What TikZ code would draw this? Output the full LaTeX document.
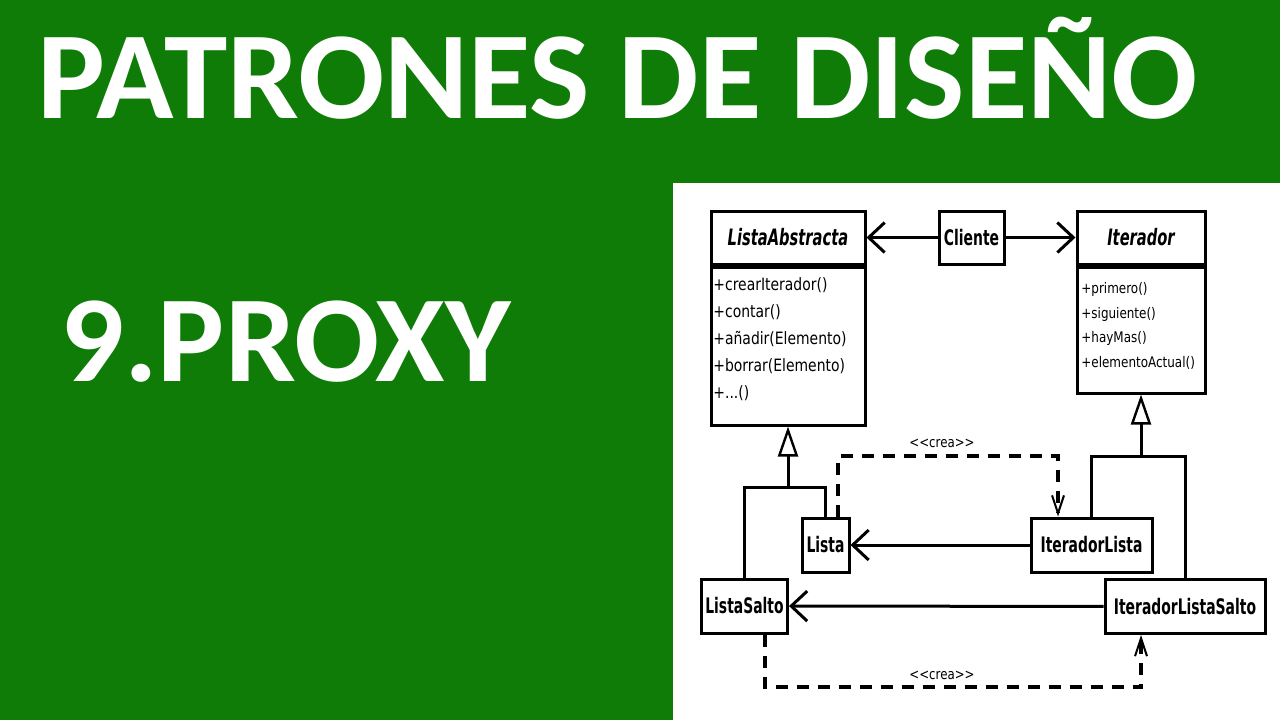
\documentclass[tikz,border=0pt]{standalone}
\usepackage{fontspec}
\setmainfont{Carlito}
\newfontfamily\titlefont[FakeStretch=1.025]{Carlito}
\newfontfamily\umlfont[FakeStretch=0.82]{DejaVu Sans}
\newfontfamily\umlbf[FakeStretch=0.65]{DejaVu Sans}
\usetikzlibrary{arrows.meta,positioning}
\definecolor{titlegreen}{RGB}{16,124,8}
\newcommand{\crea}{<\kern0pt<crea>\kern0pt>}

\begin{document}
\begin{tikzpicture}[x=0.5pt,y=-0.5pt,
    umlbox/.style={draw, line width=1.5pt, fill=white, inner sep=0pt, font=\umlbf\bfseries\fontsize{10.7}{12}\selectfont},
    umlhead/.style={umlbox, font=\umlbf\bfseries\itshape\fontsize{11.3}{13}\selectfont},
    umlbody/.style={draw, line width=1.5pt, inner sep=0pt},
    meth/.style={anchor=base west, inner sep=0pt, font=\umlfont\fontsize{8.5}{10}\selectfont},
    assoc/.style={line width=1.5pt, -{Straight Barb[length=8pt,width=15pt]}},
    gen/.style={line width=1.5pt, -{Triangle[open,length=15pt,width=10pt,line width=1.2pt]}},
    crea/.style={line width=2pt, dash pattern=on 6pt off 4.5pt, -{Straight Barb[length=9pt,width=6pt,line width=1pt]}},
    crealabel/.style={font=\umlfont\fontsize{7.2}{8}\selectfont, inner sep=0pt}]
                % Background and panel
                \useasboundingbox (0,0) rectangle (1280,720);
                \fill[titlegreen] (0,0) rectangle (1280,720);
                \fill[white] (673,183) rectangle (1280,720);
                
                % Title texts
                \node[anchor=base west, inner sep=0pt, text=white, font=\titlefont\bfseries\fontsize{62.3}{70}\selectfont] (title) at (37,118) {PATRONES DE DISEÑO};
                \node[anchor=base west, inner sep=0pt, text=white, font=\titlefont\bfseries\fontsize{61.5}{70}\selectfont] (pattern) at (60,381) {9.PROXY};
                
                % Abstract classes and client
                \node[umlhead, minimum width=77pt, minimum height=26.5pt] (listaHead) at (788,237.5) {ListaAbstracta};
                \node[umlbody, minimum width=77pt, minimum height=79pt, below=0pt of listaHead] (listaBody) {};
                \node[umlbox, minimum width=32.5pt, minimum height=26.5pt] (cliente) at (971.5,237.5) {Cliente};
                \node[umlhead, minimum width=64pt, minimum height=26.5pt] (iterHead) at (1141,237.5) {Iterador};
                \node[umlbody, minimum width=64pt, minimum height=63pt, below=0pt of iterHead] (iterBody) {};
                
                % Operations
                \foreach \m [count=\i] in {+crearIterador(), +contar(), +añadir(Elemento), +borrar(Elemento), +{...}()}
                    \node[meth] (listaOp\i) at (713,{290+27*(\i-1)}) {\m};
                \foreach \m [count=\i] in {+primero(), +siguiente(), +hayMas(), +elementoActual()}
                    \node[meth, font=\umlfont\fontsize{7.3}{9}\selectfont] (iterOp\i) at (1081,{293.5+24.7*(\i-1)}) {\m};
                
                % Concrete classes
                \node[umlbox, minimum width=23.5pt, minimum height=27pt] (lista) at (825.5,545) {Lista};
                \node[umlbox, minimum width=43pt, minimum height=27pt] (listaSalto) at (744.5,606) {ListaSalto};
                \node[umlbox, minimum width=60.5pt, minimum height=27pt] (iterLista) at (1091.5,545) {IteradorLista};
                \node[umlbox, minimum width=80pt, minimum height=27pt] (iterSalto) at (1185,606.5) {IteradorListaSalto};
                
                % Client associations
                \draw[assoc] (cliente) -- (listaHead);
                \draw[assoc] (cliente) -- (iterHead);
                
                % Inheritance
                \coordinate (listaGen) at (788,487);
                \draw[line width=1.5pt] (listaSalto.north) |- (listaGen) -| (lista.north);
                \draw[gen] (listaGen) -- (listaBody.south);
                \coordinate (iterGen) at (1141,456);
                \draw[line width=1.5pt] (iterLista.north) |- (iterGen) -| (iterSalto.north);
                \draw[gen] (iterGen) -- (iterBody.south);
                
                % Iterators know their lists
                \draw[assoc] (iterLista) -- (lista);
                \draw[assoc] (iterSalto) -- (listaSalto);
                
                % <<crea>> dependencies
                \coordinate (creaTop) at (1058,456);
                \draw[crea] ([xshift=6.25pt]lista.north) |- (creaTop) -- (creaTop |- iterLista.north);
                \node[crealabel] (creaTopLabel) at (942,443) {\crea};
                \coordinate (creaBot) at (1141,687);
                \draw[crea] ([xshift=10.25pt]listaSalto.south) |- (creaBot) -- (creaBot |- iterSalto.south);
                \node[crealabel] (creaBotLabel) at (942,675) {\crea};
\end{tikzpicture}
\end{document}
